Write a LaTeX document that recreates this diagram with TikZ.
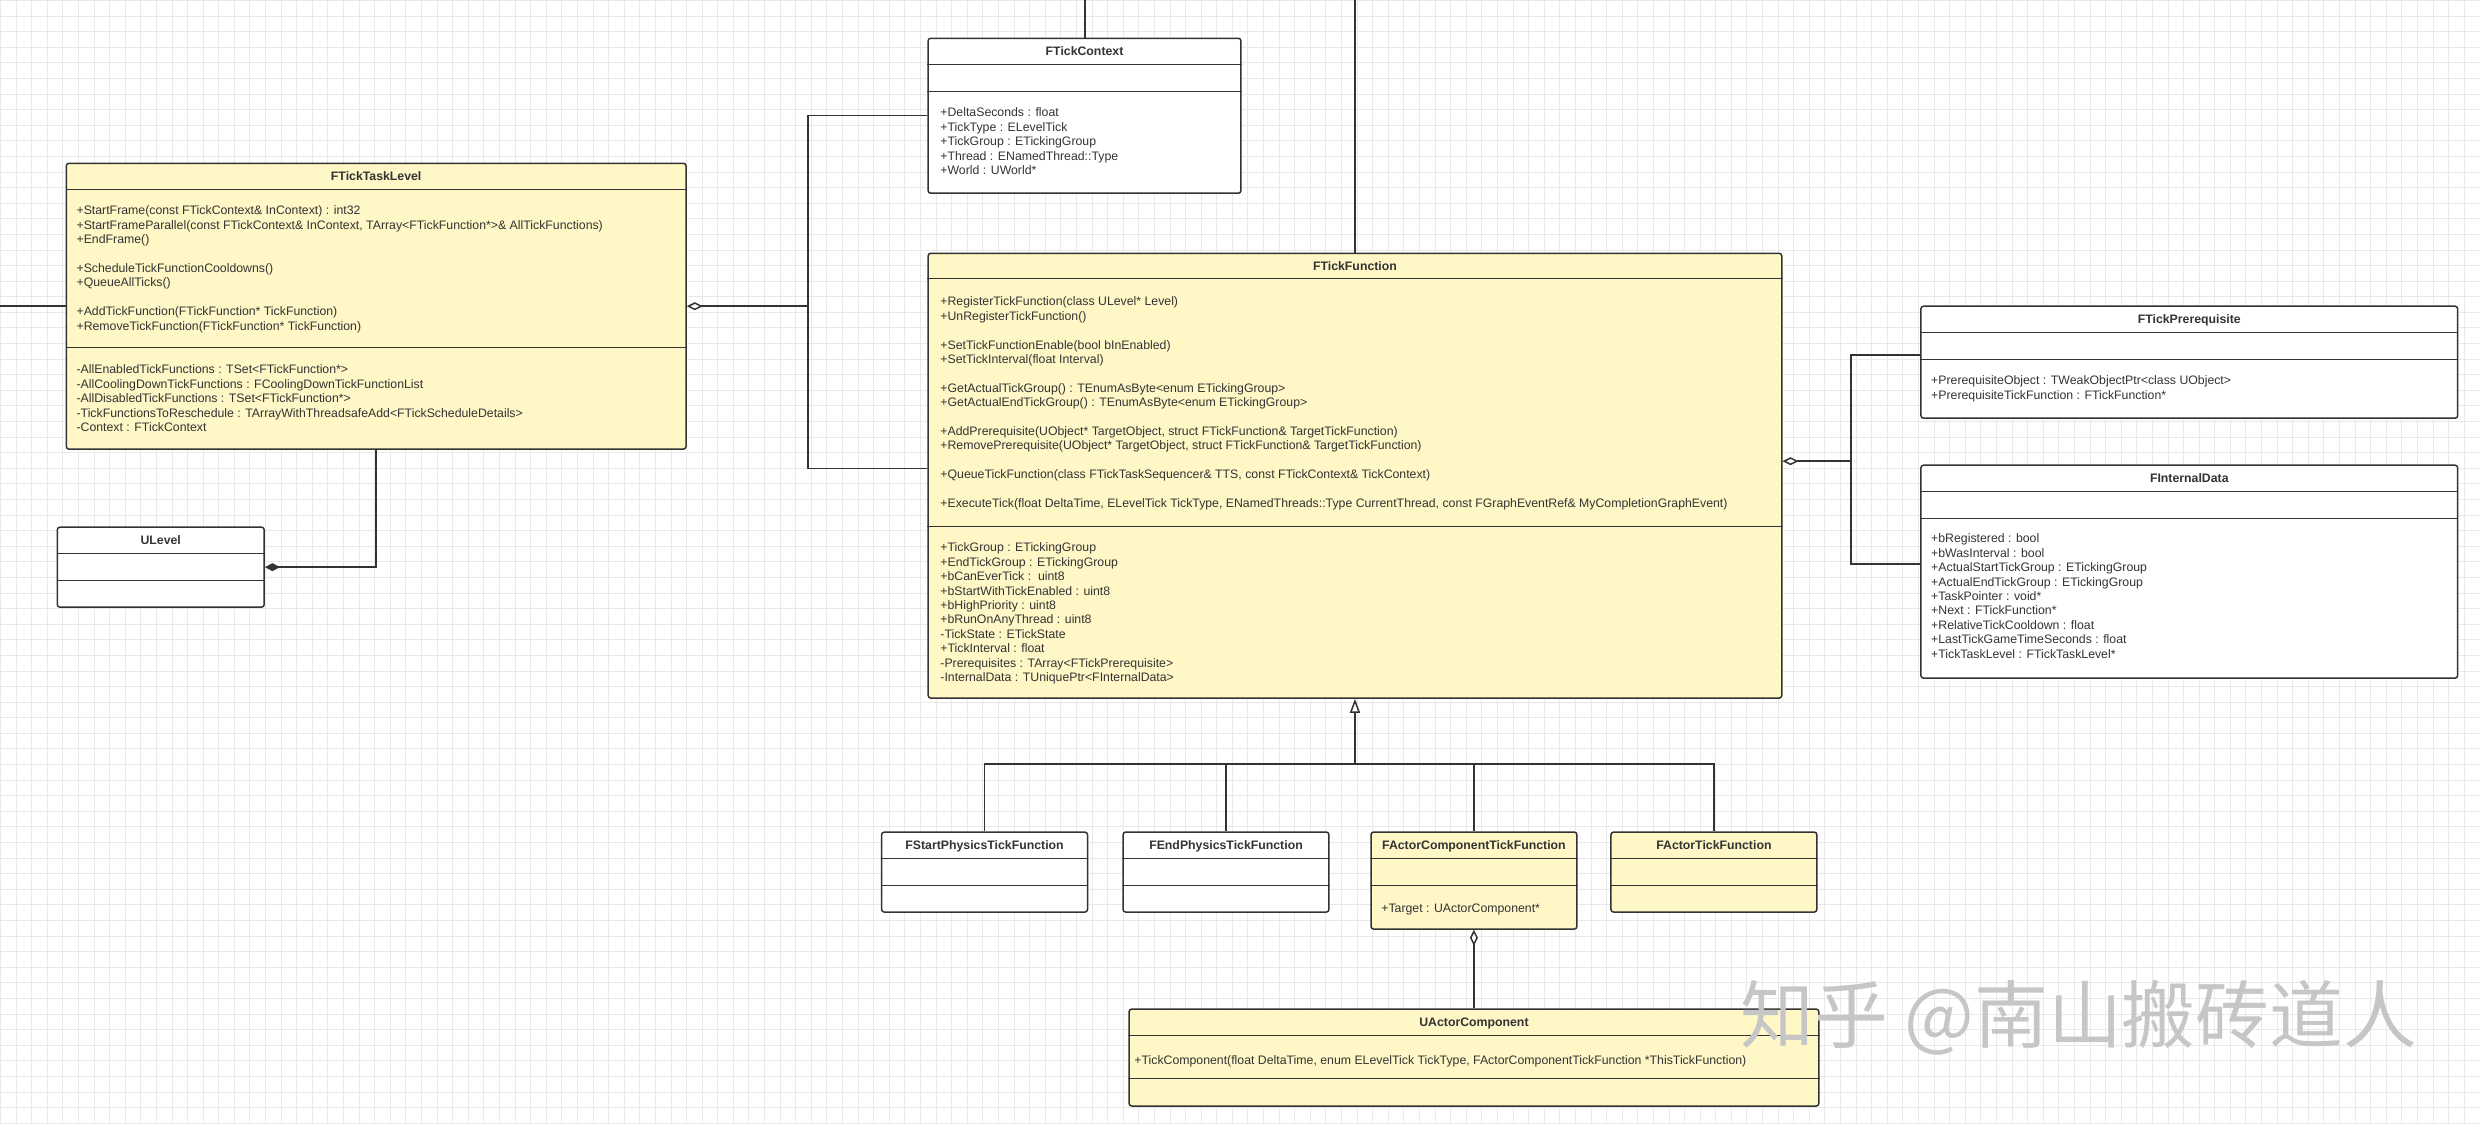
\documentclass[tikz,border=0pt]{standalone}
\usepackage{fontspec}
\setmainfont{Liberation Sans}
\newfontfamily\cjkfont{Noto Sans CJK SC}
\usepackage{tikz}
\usetikzlibrary{positioning,arrows.meta}
\definecolor{umlyellow}{HTML}{FFF7C6}
\definecolor{umlline}{HTML}{333333}
\definecolor{gridgray}{HTML}{E9E9E9}
\newcommand{\membersize}{\fontsize{7}{8.2}\selectfont}

\begin{document}
\begin{tikzpicture}[x=0.02cm, y=-0.02cm,
  cls/.style={draw=umlline, line width=0.85pt, rounded corners=1.5pt, inner sep=0pt},
  yel/.style={cls, fill=umlyellow},
  wht/.style={cls, fill=white},
  clstitle/.style={font=\membersize\bfseries, text=umlline, inner sep=0pt, anchor=base},
  members/.style={font=\membersize, text=umlline, align=left, anchor=north west,
    inner sep=0pt, execute at begin node=\strut},
  div/.style={draw=umlline, line width=0.85pt},
  conn/.style={draw=umlline, line width=0.85pt},
  agg/.style={{Diamond[fill=white, length=0.32cm, width=0.16cm]}-},
  comp/.style={-{Diamond[length=0.3cm, width=0.16cm]}},
  inh/.style={-{Triangle[fill=white, length=0.28cm, width=0.2cm]}}]
% page and grid
\fill[white] (0,0) rectangle (2479,1123);
\draw[gridgray, line width=0.3pt, step=0.312cm] (0,1123) grid (2479,0);
\useasboundingbox (0,0) rectangle (2479,1123);

% classes
\node[yel, minimum width=12.4cm, minimum height=5.72cm] (ftl) at (376,306) {};
\node[wht, minimum width=4.14cm, minimum height=1.6cm] (ulevel) at (160.5,567) {};
\node[wht, minimum width=6.26cm, minimum height=3.1cm] (ftc) at (1084.5,115.5) {};
\node[yel, minimum width=17.08cm, minimum height=8.9cm] (ftf) at (1355,475.5) {};
\node[wht, minimum width=10.74cm, minimum height=2.24cm] (ftp) at (2189.5,362) {};
\node[wht, minimum width=10.74cm, minimum height=4.26cm] (fid) at (2189.5,571.5) {};
\node[wht, minimum width=4.12cm, minimum height=1.6cm] (fsp) at (984.5,872) {};
\node[wht, minimum width=4.12cm, minimum height=1.6cm] (fep) at (1226,872) {};
\node[yel, minimum width=4.12cm, minimum height=1.94cm] (facf) at (1474,880.5) {};
\node[yel, minimum width=4.12cm, minimum height=1.6cm] (fatf) at (1714,872) {};
\node[yel, minimum width=13.8cm, minimum height=1.94cm] (uac) at (1474,1057.5) {};

% compartments
\foreach \n/\d in {ftl/27, ftl/185, ulevel/27, ulevel/54, ftc/27, ftc/54, ftf/26, ftf/274,
    ftp/27, ftp/54, fid/27, fid/54, fsp/27, fsp/54, fep/27, fep/54,
    facf/27, facf/54, fatf/27, fatf/54, uac/27, uac/70}
  \draw[div] ([shift={(0,\d)}]\n.north west) -- ([shift={(0,\d)}]\n.north east);

\foreach \n/\t in {ftl/FTickTaskLevel, ulevel/ULevel, ftc/FTickContext, ftf/FTickFunction,
    ftp/FTickPrerequisite, fid/FInternalData, fsp/FStartPhysicsTickFunction,
    fep/FEndPhysicsTickFunction, facf/FActorComponentTickFunction,
    fatf/FActorTickFunction, uac/UActorComponent}
  \node[clstitle] (\n-t) at ([shift={(0,18)}]\n.north) {\t};

% members
\node[members] (ftl-ops) at (76,205.4) {+StartFrame(const FTickContext\& InContext) : int32\\
  +StartFrameParallel(const FTickContext\& InContext, TArray<FTickFunction*>\& AllTickFunctions)\\
  +EndFrame()\\[8.2pt]
  +ScheduleTickFunctionCooldowns()\\
  +QueueAllTicks()\\[8.2pt]
  +AddTickFunction(FTickFunction* TickFunction)\\
  +RemoveTickFunction(FTickFunction* TickFunction)};
\node[members] (ftl-attrs) at (76,364.4) {-AllEnabledTickFunctions : TSet<FTickFunction*>\\
  -AllCoolingDownTickFunctions : FCoolingDownTickFunctionList\\
  -AllDisabledTickFunctions : TSet<FTickFunction*>\\
  -TickFunctionsToReschedule : TArrayWithThreadsafeAdd<FTickScheduleDetails>\\
  -Context : FTickContext};
\node[members] (ftc-attrs) at (940,107.4) {+DeltaSeconds : float\\
  +TickType : ELevelTick\\
  +TickGroup : ETickingGroup\\
  +Thread : ENamedThread::Type\\
  +World : UWorld*};
\node[members] (ftf-ops) at (940,296.4) {+RegisterTickFunction(class ULevel* Level)\\
  +UnRegisterTickFunction()\\[8.2pt]
  +SetTickFunctionEnable(bool bInEnabled)\\
  +SetTickInterval(float Interval)\\[8.2pt]
  +GetActualTickGroup() : TEnumAsByte<enum ETickingGroup>\\
  +GetActualEndTickGroup() : TEnumAsByte<enum ETickingGroup>\\[8.2pt]
  +AddPrerequisite(UObject* TargetObject, struct FTickFunction\& TargetTickFunction)\\
  +RemovePrerequisite(UObject* TargetObject, struct FTickFunction\& TargetTickFunction)\\[8.2pt]
  +QueueTickFunction(class FTickTaskSequencer\& TTS, const FTickContext\& TickContext)\\[8.2pt]
  +ExecuteTick(float DeltaTime, ELevelTick TickType, ENamedThreads::Type CurrentThread, const FGraphEventRef\& MyCompletionGraphEvent)};
\node[members] (ftf-attrs) at (940,542.4) {+TickGroup : ETickingGroup\\
  +EndTickGroup : ETickingGroup\\
  +bCanEverTick :\ \ uint8\\
  +bStartWithTickEnabled : uint8\\
  +bHighPriority : uint8\\
  +bRunOnAnyThread : uint8\\
  -TickState : ETickState\\
  +TickInterval : float\\
  -Prerequisites : TArray<FTickPrerequisite>\\
  -InternalData : TUniquePtr<FInternalData>};
\node[members] (ftp-attrs) at (1931,375.4) {+PrerequisiteObject : TWeakObjectPtr<class UObject>\\
  +PrerequisiteTickFunction : FTickFunction*};
\node[members] (fid-attrs) at (1931,533.4) {+bRegistered : bool\\
  +bWasInterval : bool\\
  +ActualStartTickGroup : ETickingGroup\\
  +ActualEndTickGroup : ETickingGroup\\
  +TaskPointer : void*\\
  +Next : FTickFunction*\\
  +RelativeTickCooldown : float\\
  +LastTickGameTimeSeconds : float\\
  +TickTaskLevel : FTickTaskLevel*};
\node[members] (facf-attrs) at (1381,902.4) {+Target : UActorComponent*};
\node[members] (uac-ops) at (1134,1054.4) {+TickComponent(float DeltaTime, enum ELevelTick TickType, FActorComponentTickFunction *ThisTickFunction)};

% connectors
\coordinate (leftend) at (0,306);
\draw[conn] (leftend) -- (ftl.west);
\coordinate (ctxtop) at (1085,0);
\draw[conn] (ctxtop) -- (ctxtop |- ftc.north);
\coordinate (ftftop) at (1355,0);
\draw[conn] (ftftop) -- (ftf.north);
\coordinate (lj) at (808,306);
\draw[conn, agg] (ftl.east) -- (lj);
\draw[conn] (ftc.west) -| (lj) |- ([shift={(0,-7)}]ftf.west);
\draw[conn, comp] (ftl.south) |- (ulevel.east);
\coordinate (rj) at (1851,461);
\draw[conn, agg] ([shift={(0,-14.5)}]ftf.east) -- (rj);
\draw[conn] ([shift={(0,-7)}]ftp.west) -| (rj) |- ([shift={(0,-7.5)}]fid.west);
\coordinate (bar) at (1355,764);
\draw[conn, inh] (bar) -- (ftf.south);
\foreach \c in {fsp,fep,facf,fatf}
  \draw[conn] (\c.north) |- (bar);
\draw[conn, agg] (facf.south) -- (uac.north);

% watermark
\node[font=\cjkfont\fontsize{42}{42}\selectfont, text=gray!45] (mark) at (2079,1018) {知乎 @南山搬砖道人};
\end{tikzpicture}
\end{document}
